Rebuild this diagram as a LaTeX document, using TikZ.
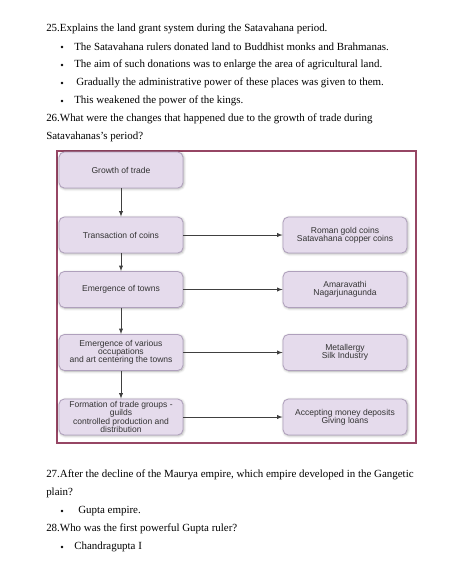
\documentclass[tikz,border=0pt]{standalone}
\usepackage{fontspec}
\setmainfont{Liberation Serif}
\newfontfamily\boxfont{Liberation Sans}
\usepackage{tikz}
\usetikzlibrary{arrows}
\usetikzlibrary{shadows.blur}

\definecolor{framered}{RGB}{150,70,100}
\definecolor{boxfill}{RGB}{229,219,236}
\definecolor{boxline}{RGB}{175,160,188}

\tikzset{
  flowbox/.style={draw=boxline, fill=boxfill, rounded corners=4pt, line width=0.6pt,
    minimum width=93pt, minimum height=27pt, inner sep=1pt, align=center,
    font=\boxfont\fontsize{6.4}{6.1}\selectfont, text=black!80,
    blur shadow={shadow xshift=0.6pt, shadow yshift=-0.6pt, shadow blur steps=4, shadow opacity=35}},
  flowarrow/.style={-latex, draw=black!75, line width=0.45pt},
  bodytext/.style={anchor=west, inner sep=0pt, font=\fontsize{8.2}{9}\selectfont},
  bullet/.style={circle, fill=black, inner sep=0pt, minimum size=2.2pt}
}

\begin{document}
\begin{tikzpicture}[x=0.75pt,y=0.75pt,yscale=-1,xscale=1]
\useasboundingbox (0,0) rectangle (474,587);

% Question 25
\node[bodytext] (q25) at (46,29) {25.Explains the land grant system during the Satavahana period.};
\node[bullet] (b1) at (62,47) {};
\node[bodytext] (a1) at (74,47) {The Satavahana rulers donated land to Buddhist monks and Brahmanas.};
\node[bullet] (b2) at (62,65) {};
\node[bodytext] (a2) at (74,65) {The aim of such donations was to enlarge the area of agricultural land.};
\node[bullet] (b3) at (62,83) {};
\node[bodytext] (a3) at (76,83) {Gradually the administrative power of these places was given to them.};
\node[bullet] (b4) at (62,101) {};
\node[bodytext] (a4) at (74,101) {This weakened the power of the kings.};

% Question 26
\node[bodytext] (q26) at (46,119) {26.What were the changes that happened due to the growth of trade during};
\node[bodytext] (q26b) at (46,137) {Satavahanas's period?};

% Frame
\draw [color=framered, line width=1pt] (57,151) rectangle (416,443);

% Left column
\node[flowbox] (growth) at (121,170) {Growth of trade};
\node[flowbox] (coins) at (121,235) {Transaction of coins};
\node[flowbox] (towns) at (121,289.5) {Emergence of towns};
\node[flowbox] (occup) at (121,352.5) {Emergence of various\\occupations\\and art centering the towns};
\node[flowbox] (guilds) at (121,417) {Formation of trade groups -\\guilds\\controlled production and\\distribution};

% Right column
\node[flowbox] (roman) at (345,235) {Roman gold coins\\Satavahana copper coins};
\node[flowbox] (places) at (345,289.5) {Amaravathi\\Nagarjunagunda};
\node[flowbox] (metal) at (345,352.5) {Metallergy\\Silk Industry};
\node[flowbox] (loans) at (345,417) {Accepting money deposits\\Giving loans};

% Arrows
\draw[flowarrow] (growth) -- (coins);
\draw[flowarrow] (coins) -- (towns);
\draw[flowarrow] (towns) -- (occup);
\draw[flowarrow] (occup) -- (guilds);
\draw[flowarrow] (coins) -- (roman);
\draw[flowarrow] (towns) -- (places);
\draw[flowarrow] (occup) -- (metal);
\draw[flowarrow] (guilds) -- (loans);

% Question 27
\node[bodytext] (q27) at (46,475) {27.After the decline of the Maurya empire, which empire developed in the Gangetic};
\node[bodytext] (q27b) at (46,493) {plain?};
\node[bullet] (b5) at (62,511) {};
\node[bodytext] (a5) at (78,511) {Gupta empire.};

% Question 28
\node[bodytext] (q28) at (46,529) {28.Who was the first powerful Gupta ruler?};
\node[bullet] (b6) at (62,547) {};
\node[bodytext] (a6) at (74,547) {Chandragupta I};

\end{tikzpicture}
\end{document}
